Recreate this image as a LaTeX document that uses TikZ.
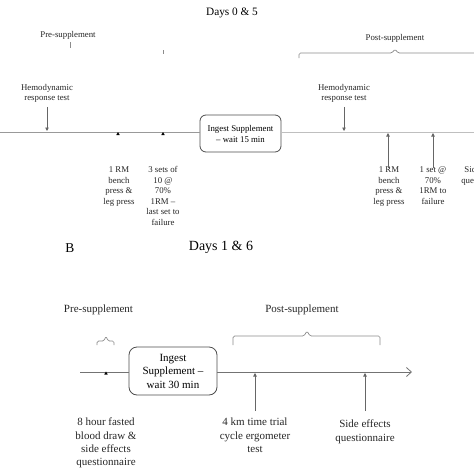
\documentclass[tikz,border=0pt]{standalone}
\usepackage{fontspec}
\setmainfont{Liberation Serif}
\usetikzlibrary{arrows.meta,shapes.geometric}
\begin{document}
\begin{tikzpicture}[x=1pt,y=-1pt,
  small/.style={font=\fontsize{8.8}{10.5}\selectfont, align=center, inner sep=0pt, text=black!85},
  big/.style={font=\fontsize{11}{13.3}\selectfont, align=center, inner sep=0pt, text=black!85},
  tline/.style={draw=black!40, line width=0.8pt},
  brace/.style={draw=black!45, line width=0.7pt, rounded corners=1.5pt},
  arr/.style={draw=black!60, line width=0.7pt, -{Triangle[length=3.5pt,width=3.5pt]}},
  openarr/.style={draw=black!45, line width=0.8pt, -{Straight Barb[length=5pt,width=9pt]}},
  tri/.style={regular polygon, regular polygon sides=3, fill=black, inner sep=0pt, minimum size=4pt},
  stepbox/.style={draw=black!70, line width=0.8pt, rounded corners=6pt, align=center, inner sep=0pt}
]
\useasboundingbox (0,0) rectangle (474,474);
\begin{scope}
\clip (0,0) rectangle (474,474);
% ---------- Panel A ----------
\node[font=\fontsize{11.3}{13}\selectfont, inner sep=0pt] (titleA) at (232,13) {Days 0 \& 5};
\node[small] (preA) at (68,35) {Pre-supplement};
\coordinate (preAt) at (70,42);
\coordinate (preAb) at (70,48);
\draw[brace] (preAt) -- (preAb);
\coordinate (preAt2) at (163,50);
\coordinate (preAb2) at (163,54);
\draw[brace] (preAt2) -- (preAb2);

\node[small] (postA) at (395,38) {Post-supplement};
\coordinate (pbL) at (299,58);
\coordinate (pbM) at (395,49);
\coordinate (pbR) at (480,53);
\draw[brace] (pbL) -- (299,53) -- (392,53) -- (pbM) -- (398,53) -- (pbR);

\node[small, anchor=north] (hemoA1) at (47,84) {Hemodynamic\\response test};
\node[small, anchor=north] (hemoA2) at (344,84) {Hemodynamic\\response test};

\node[stepbox, minimum width=81pt, minimum height=37pt, font=\fontsize{8.8}{11}\selectfont] (boxA) at (240.5,133.5) {Ingest Supplement\\– wait 15 min};

\coordinate (lineAstart) at (0,132);
\coordinate (lineAend) at (474,132);
\draw[tline] (lineAstart) -- (boxA.west |- lineAstart);
\draw[tline, draw=black!25] (boxA.east |- lineAstart) -- (lineAend);

\coordinate (hA1) at (47,131);
\coordinate (hA2) at (344,131);
\draw[arr] (hemoA1.south) ++(0,4) -- (hA1);
\draw[arr] (hemoA2.south) ++(0,4) -- (hA2);

\node[tri] (tA1) at (118,134) {};
\node[tri] (tA2) at (163,134) {};

\node[small, anchor=north] (rmA1) at (119,166.5) {1 RM\\bench\\press \&\\leg press};
\node[small, anchor=north] (setsA1) at (163,166.5) {3 sets of\\10 @\\70\%\\1RM –\\last set to\\failure};

\node[small, anchor=north] (rmA2) at (389,166.5) {1 RM\\bench\\press \&\\leg press};
\node[small, anchor=north] (setA2) at (433,166.5) {1 set @\\70\%\\1RM to\\failure};
\node[small, anchor=north] (sideA) at (485,166.5) {Side effects\\questionnaire};

\coordinate (uA1) at (388,133);
\coordinate (uA2) at (433,133);
\draw[arr] (rmA2.north) ++(-1,1) -- (uA1);
\draw[arr] (setA2.north) ++(0,1) -- (uA2);

% ---------- Panel B ----------
\node[font=\fontsize{13.5}{15}\selectfont, inner sep=0pt] (labB) at (70,248) {B};
\node[font=\fontsize{14}{16}\selectfont, inner sep=0pt] (titleB) at (221,247) {Days 1 \& 6};

\node[big] (preB) at (98.5,310) {Pre-supplement};
\node[big] (postB) at (302,310) {Post-supplement};

\coordinate (bpL) at (97,345);
\coordinate (bpM) at (106,336);
\coordinate (bpR) at (114,345);
\draw[brace] (bpL) -- (97,341) -- (104,341) -- (bpM) -- (108,341) -- (114,341) -- (bpR);

\coordinate (bqL) at (233,345);
\coordinate (bqM) at (307,331);
\coordinate (bqR) at (380,345);
\draw[brace] (bqL) -- (233,336) -- (304,336) -- (bqM) -- (310,336) -- (380,336) -- (bqR);

\node[stepbox, minimum width=88pt, minimum height=48pt, font=\fontsize{11}{13.5}\selectfont, rounded corners=8pt] (boxB) at (173,371) {Ingest\\Supplement –\\wait 30 min};

\coordinate (lineBstart) at (80,372);
\coordinate (lineBend) at (412,372);
\draw[tline, draw=black!55] (lineBstart) -- (boxB.west |- lineBstart);
\draw[openarr, draw=black!55] (boxB.east |- lineBstart) -- (lineBend);

\node[tri] (tB1) at (106,373.5) {};

\node[big, anchor=north] (fastB) at (106,418) {8 hour fasted\\blood draw \&\\side effects\\questionnaire};
\node[big, anchor=north] (kmB) at (255,418) {4 km time trial\\cycle ergometer\\test};
\node[big, anchor=north] (sideB) at (365,420) {Side effects\\questionnaire};

\coordinate (uB1) at (255,373);
\coordinate (uB2) at (365,373);
\draw[arr] (255,411) -- (uB1);
\draw[arr] (365,411) -- (uB2);
\end{scope}
\end{tikzpicture}
\end{document}
